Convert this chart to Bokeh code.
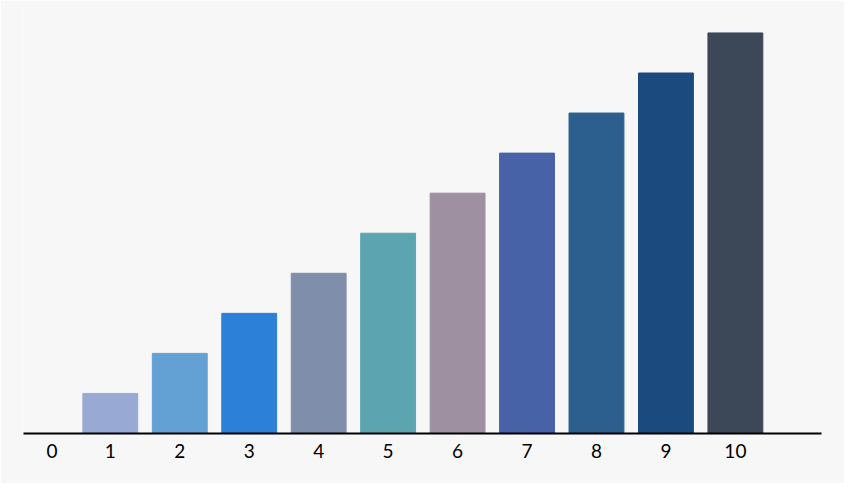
from bokeh.plotting import figure
from bokeh.models import Range1d, FixedTicker, ColumnDataSource
from bokeh.embed import file_html
from bokeh.resources import INLINE

# data
xs = [1, 2, 3, 4, 5, 6, 7, 8, 9, 10]
heights = [1, 2, 3, 4, 5, 6, 7, 8, 9, 10]
colors = ["#98a9d4", "#63a0d4", "#2c80d7", "#7f8eaa", "#5ba4b0",
          "#9e90a1", "#4862a8", "#2c5f8d", "#1b4a7f", "#3c4758"]
# the "0" label sits a little right of where x=0 would be
tick_positions = [0.16, 1, 2, 3, 4, 5, 6, 7, 8, 9, 10]
tick_labels = ["0", "1", "2", "3", "4", "5", "6", "7", "8", "9", "10"]

src = ColumnDataSource(data=dict(x=xs, top=heights, color=colors))

p = figure(width=844, height=483, output_backend="svg", toolbar_location=None,
           x_range=Range1d(-0.25, 11.24), y_range=Range1d(0, 10.81),
           background_fill_color="#f7f7f7", border_fill_color="#f7f7f7",
           min_border_left=23, min_border_right=23, min_border_top=0,
           min_border_bottom=50)
p.outline_line_color = None
p.grid.visible = False
p.yaxis.visible = False

p.vbar(x="x", top="top", bottom=0, width=0.79, color="color", source=src)

ax = p.xaxis[0]
ax.ticker = FixedTicker(ticks=tick_positions)
ax.major_label_overrides = dict(zip(tick_positions, tick_labels))
ax.axis_line_color = "black"
ax.axis_line_width = 2
ax.major_tick_line_color = None
ax.minor_tick_line_color = None
ax.major_tick_out = 0
ax.major_label_standoff = 10
ax.major_label_text_font = "Lato"
ax.major_label_text_font_size = "19px"
ax.major_label_text_color = "black"

open("out.html", "w").write(file_html(p, INLINE))
